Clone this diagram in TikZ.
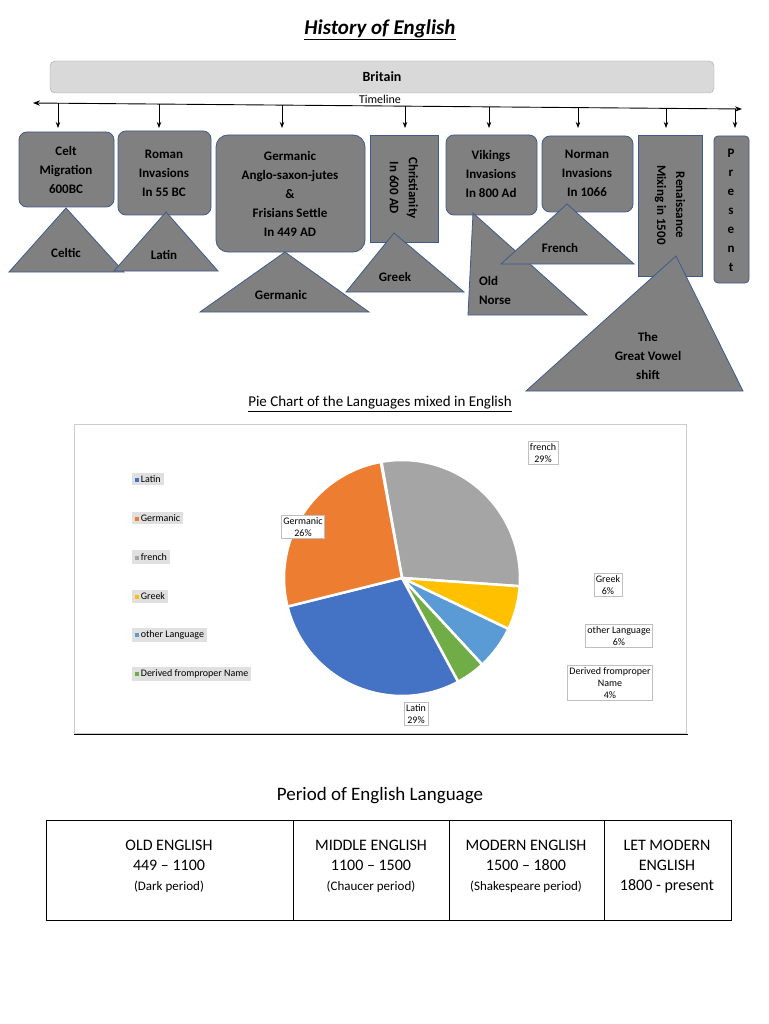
\documentclass[tikz,border=0pt]{standalone}
\usepackage{fontspec}
\setmainfont{Carlito}
\usetikzlibrary{arrows.meta}
\definecolor{bx}{HTML}{808080}
\definecolor{bd}{HTML}{3F5B8C}
\definecolor{cLat}{HTML}{4472C4}
\definecolor{cGer}{HTML}{ED7D31}
\definecolor{cFr}{HTML}{A5A5A5}
\definecolor{cGr}{HTML}{FFC000}
\definecolor{cOt}{HTML}{5B9BD5}
\definecolor{cDe}{HTML}{70AD47}
\newcommand{\lsq}[1]{\tikz[baseline=-0.5pt]\fill[#1] (0,0) rectangle (4pt,4pt);}
\begin{document}
\begin{tikzpicture}[x=1pt,y=-1pt,
  box/.style={fill=bx,draw=bd,line width=0.8pt},
  lbl/.style={font=\fontsize{13}{19}\selectfont\bfseries,align=center},
  dn/.style={-{Stealth[length=6pt]},line width=0.8pt},
  leg/.style={font=\fontsize{10}{12}\selectfont,fill=black!12,inner sep=3pt,anchor=west},
  pl/.style={font=\fontsize{10}{12}\selectfont,draw=black!25,fill=white,align=center,inner sep=2pt},
  cell/.style={font=\fontsize{16}{20}\selectfont,align=center}]
\useasboundingbox (0,0) rectangle (768,1024);
\fill[white] (0,0) rectangle (768,1024);
% title
\node (title) at (380,30) {\fontsize{21}{24}\selectfont\bfseries\itshape\underline{History of English}};
% Britain bar
\node (brit) [draw=black!35,fill=black!15,rounded corners=5pt,minimum width=664pt,minimum height=32pt] at (382,77) {\fontsize{14}{16}\selectfont\bfseries Britain};
\coordinate (tl) at (33,103); \coordinate (tr) at (742,109);
\draw[{Stealth[length=7pt]}-{Stealth[length=7pt]},line width=0.9pt] (tl) -- (tr);
\node (tline) at (380,99) {\fontsize{12}{13}\selectfont Timeline};
% boxes
\draw[box,rounded corners=8pt] (19,132) rectangle (114,207);
\draw[box,rounded corners=8pt] (118,131) rectangle (211,215);
\draw[box,rounded corners=12pt] (216,135) rectangle (365,252);
\draw[box] (370,135) rectangle (438,242);
\draw[box,rounded corners=8pt] (446,135) rectangle (537,215);
\draw[box,rounded corners=8pt] (542,136) rectangle (633,212);
\draw[box] (638,135) rectangle (702,276);
\draw[box,rounded corners=4pt] (714,136) rectangle (749,283);
% arrows
\foreach \x/\y in {58/103.5,159/104.5,282/105.5,405/106.5,489/107.2,578/108,666/108.7,735/109}
  \draw[dn] (\x,\y) -- (\x,128);
% box texts
\node[lbl] (b1) at (66,170) {Celt\\Migration\\600BC};
\node[lbl] (b2) at (164,173) {Roman\\Invasions\\In 55 BC};
\node[lbl] (b3) at (290,194) {Germanic\\Anglo-saxon-jutes\\\&\\Frisians Settle\\In 449 AD};
\node[lbl,rotate=-90] (b4) at (404,188) {Christianity\\In 600 AD};
\node[lbl] (b5) at (491,174) {Vikings\\Invasions\\In 800 Ad};
\node[lbl] (b6) at (587,173) {Norman\\Invasions\\In 1066};
\node[lbl,rotate=-90] (b7) at (670,205) {Renaissance\\Mixing in 1500};
\node[lbl,font=\fontsize{13}{19}\selectfont\bfseries] (b8) at (731,210) {P\\r\\e\\s\\e\\n\\t};
% triangles
\draw[box] (66,208) -- (124,272) -- (9,272) -- cycle;
\draw[box] (166,212) -- (218,271) -- (114,271) -- cycle;
\draw[box] (285,252) -- (369,312) -- (200,312) -- cycle;
\draw[box] (394,233) -- (464,292) -- (346,292) -- cycle;
\draw[box] (473,213) -- (587,315) -- (468,315) -- cycle;
\draw[box] (567,204) -- (634,264) -- (501,264) -- cycle;
\draw[box] (676,256) -- (743,391) -- (526,391) -- cycle;
\node[lbl] (t1) at (66,253) {Celtic};
\node[lbl] (t2) at (164,255) {Latin};
\node[lbl] (t3) at (281,295) {Germanic};
\node[lbl] (t4) at (395,277) {Greek};
\node[lbl,align=left] (t5) at (495,290) {Old\\Norse};
\node[lbl] (t6) at (560,248) {French};
\node[lbl] (t7) at (648,356) {The\\Great Vowel\\shift};
% pie chart
\node (ptitle) at (380,404) {\fontsize{15}{17}\selectfont\underline{Pie Chart of the Languages mixed in English}};
\draw[black!20] (74,424) rectangle (686,733);
\draw[black,line width=0.8pt] (74,734) -- (688,734);
\coordinate (pc) at (402,578);
\foreach \a/\b/\c in {-100/4/cFr, 4/25.6/cGr, 25.6/47.2/cOt, 47.2/61.6/cDe, 61.6/166/cLat, 166/259.6/cGer}
  \filldraw[fill=\c,draw=white,line width=2.5pt] (pc) -- ++(\a:118) arc[start angle=\a,end angle=\b,radius=118] -- cycle;
% legend
\foreach \t/\c/\y in {Latin/cLat/479,Germanic/cGer/518,french/cFr/557,Greek/cGr/596,other Language/cOt/635,Derived fromproper Name/cDe/674}
  \node[leg] at (132,\y) {\lsq{\c}\,\t};
% data labels
\node[pl] (lfr) at (543,453) {french\\29\%};
\node[pl] (lge) at (303,527) {Germanic\\26\%};
\node[pl] (lgr) at (608,585) {Greek\\6\%};
\node[pl] (lot) at (619,636) {other Language\\6\%};
\node[pl] (lde) at (610,683) {Derived fromproper\\Name\\4\%};
\node[pl] (lla) at (416,714) {Latin\\29\%};
% period table
\node (per) at (380,796) {\fontsize{19}{22}\selectfont Period of English Language};
\draw[line width=0.8pt] (46,820) rectangle (731,920);
\draw[line width=0.8pt] (293,820) -- (293,920) (449,820) -- (449,920) (604,820) -- (604,920);
\node[cell] (c1) at (169,866) {OLD ENGLISH\\449 -- 1100\\{\fontsize{13}{16}\selectfont (Dark period)}};
\node[cell] (c2) at (371,866) {MIDDLE ENGLISH\\1100 -- 1500\\{\fontsize{13}{16}\selectfont (Chaucer period)}};
\node[cell] (c3) at (526,866) {MODERN ENGLISH\\1500 -- 1800\\{\fontsize{13}{16}\selectfont (Shakespeare period)}};
\node[cell] (c4) at (667,867) {LET MODERN\\ENGLISH\\1800 - present};
\end{tikzpicture}
\end{document}
